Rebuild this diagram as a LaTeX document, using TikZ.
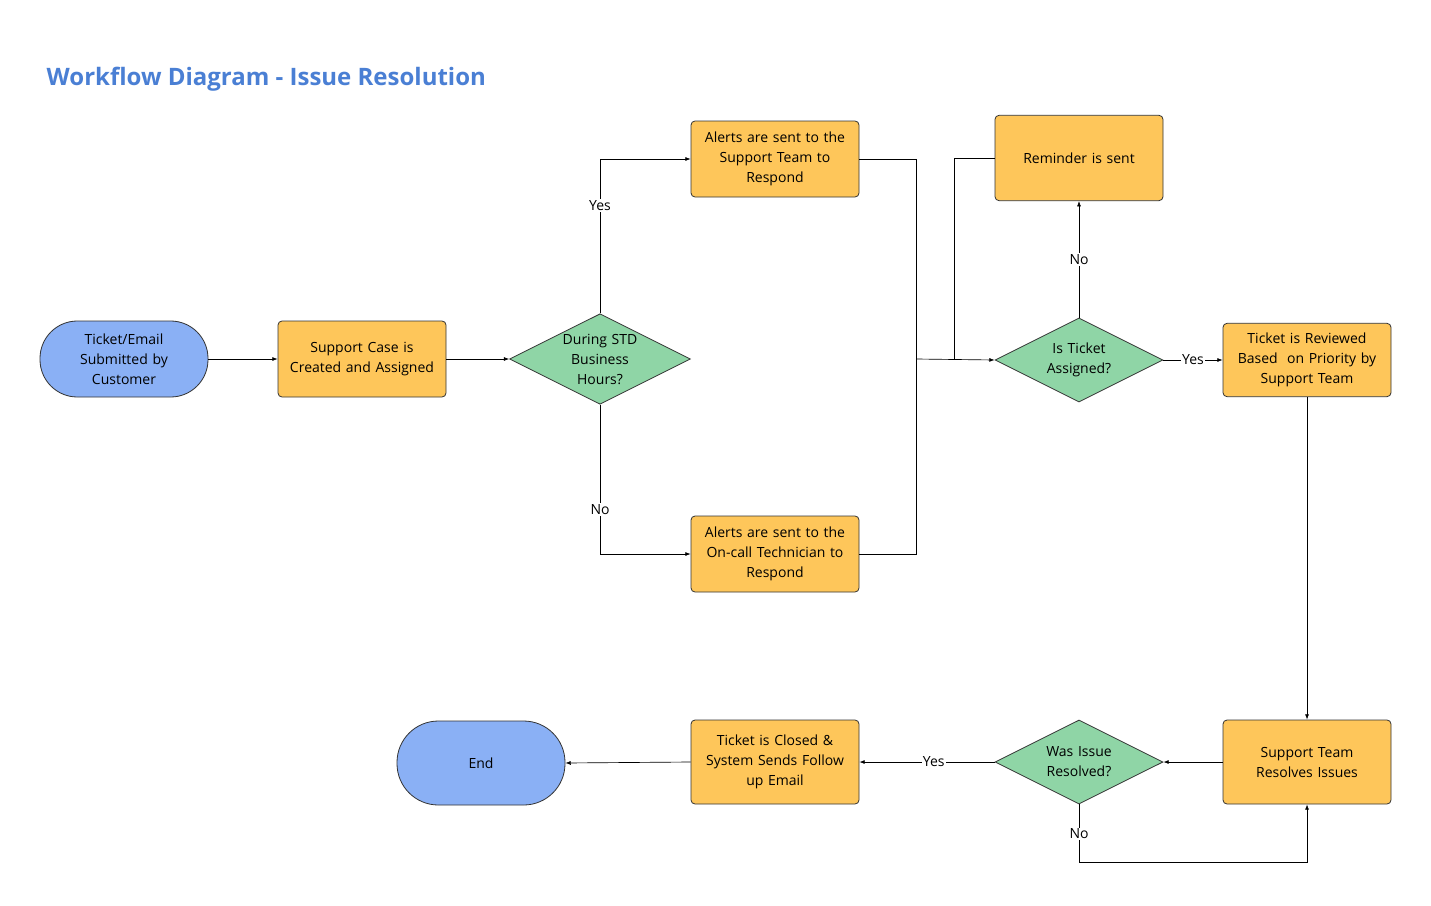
\documentclass[tikz,border=0pt]{standalone}
\usepackage{fontspec}
\setmainfont{Open Sans}
\usetikzlibrary{shapes.geometric,arrows.meta}
\definecolor{pblue}{HTML}{8AB0F5}
\definecolor{porange}{HTML}{FEC65A}
\definecolor{pgreen}{HTML}{8FD5A6}
\definecolor{ttl}{HTML}{4A7FD4}
\begin{document}
\begin{tikzpicture}[x=0.75pt,y=-0.75pt,
 base/.style={draw=black!80,line width=0.6pt,font=\fontsize{10.5}{15}\selectfont,align=center,inner sep=0pt},
 box/.style={base,fill=porange,rounded corners=3pt,minimum width=126pt,minimum height=57pt,text width=124pt},
 term/.style={base,fill=pblue,rounded corners=28pt,minimum width=126pt,minimum height=57pt,text width=110pt},
 dec/.style={base,fill=pgreen,diamond,aspect=2,minimum width=126pt,minimum height=63pt,text width=60pt},
 ar/.style={-{Latex[length=4pt,width=3pt]},line width=0.5pt},
 ln/.style={line width=0.5pt},
 lbl/.style={fill=white,font=\fontsize{10.5}{12}\selectfont,inner sep=1pt}]
\useasboundingbox (0,0) rectangle (1431,906);
\node[font=\bfseries\fontsize{18}{20}\selectfont,text=ttl,anchor=west] (t) at (42,79) {Workflow Diagram - Issue Resolution};
\node[term] (s) at (124,359) {Ticket/Email\\Submitted by\\Customer};
\node[box] (c) at (362,359) {Support Case is\\Created and Assigned};
\node[dec] (d1) at (600,359) {During STD\\Business\\Hours?};
\node[box] (a1) at (775,159) {Alerts are sent to the\\Support Team to\\Respond};
\node[box] (a2) at (775,554) {Alerts are sent to the\\On-call Technician to\\Respond};
\node[box,minimum height=64pt] (r) at (1079,158) {Reminder is sent};
\node[dec] (d2) at (1079,360) {Is Ticket\\Assigned?};
\node[box,minimum height=55pt] (rv) at (1307,360) {Ticket is Reviewed\\Based\ \ on Priority by\\Support Team};
\node[box,minimum height=63pt] (rs) at (1307,762) {Support Team\\Resolves Issues};
\node[dec] (d3) at (1079,762) {Was Issue\\Resolved?};
\node[box,minimum height=63pt] (cl) at (775,762) {Ticket is Closed \&\\System Sends Follow\\up Email};
\node[term,minimum height=63pt,rounded corners=31pt] (e) at (481,763) {End};
\coordinate (j) at (916,359);
\draw[ar] (s) -- (c);
\draw[ar] (c) -- (d1);
\draw[ar] (d1.north) |- node[lbl,pos=0.35]{Yes} (a1.west);
\draw[ar] (d1.south) |- node[lbl,pos=0.35]{No} (a2.west);
\draw[ln] (a1.east) -| (j) |- (a2.east);
\draw[ar] (j) -- (d2.west);
\draw[ln] (r.west) -- (954,158) -- (954,359);
\draw[ar] (d2.north) -- node[lbl]{No} (r.south);
\draw[ar] (d2.east) -- node[lbl]{Yes} (rv.west);
\draw[ar] (rv.south) -- (rs.north);
\draw[ar] (rs.west) -- (d3.east);
\draw[ar] (d3.west) -- node[lbl,pos=0.45]{Yes} (cl.east);
\draw[ar] (cl.west) -- (e.east);
\draw[ar] (d3.south) |- (1190,862) -| (rs.south);
\node[lbl] (no3) at (1079,834) {No};
\end{tikzpicture}
\end{document}
